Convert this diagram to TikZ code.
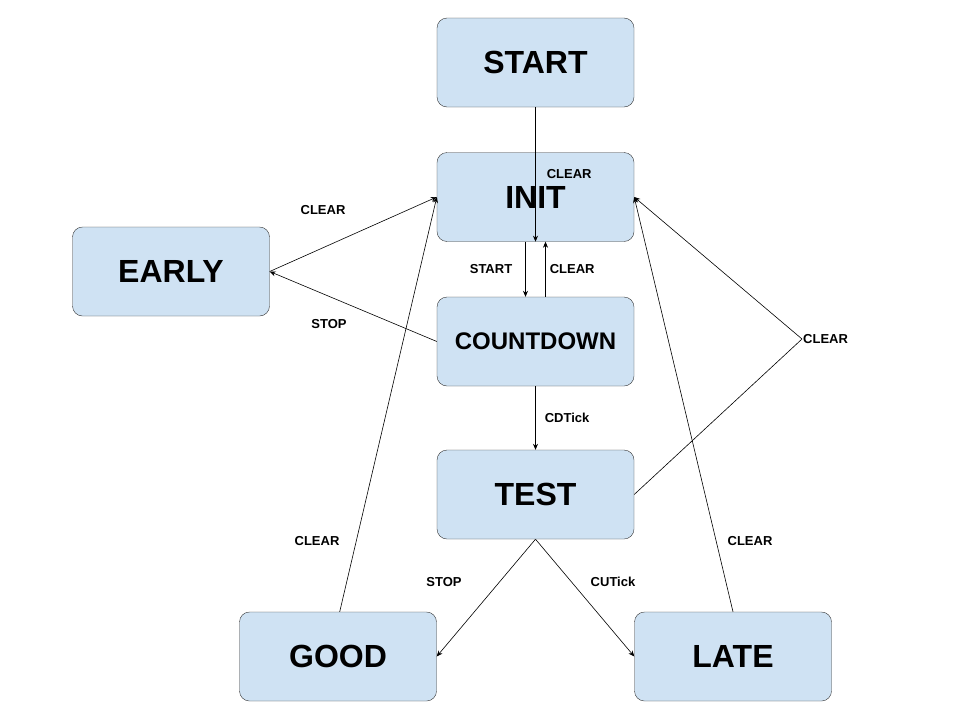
\documentclass[tikz,border=0pt]{standalone}
\usepackage{fontspec}
\setmainfont{Liberation Sans}
\usetikzlibrary{arrows.meta}
\begin{document}
\begin{tikzpicture}[x=1pt,y=-1pt,
  state/.style={draw=black!80,fill={rgb,255:red,207;green,226;blue,243},rounded corners=10pt,minimum width=197pt,minimum height=89pt,font=\fontsize{32}{36}\selectfont\bfseries,inner sep=0pt},
  lbl/.style={font=\fontsize{13}{15}\selectfont\bfseries,inner sep=1pt},
  conn/.style={-{Stealth[length=6pt,width=5pt]},line width=0.6pt}]
\useasboundingbox (0,0) rectangle (960,720);
\node[state] (start) at (535.5,62.5) {START};
\node[state] (init) at (535.5,197) {INIT};
\node[state] (early) at (171,271.5) {EARLY};
\node[state,font=\fontsize{24}{28}\selectfont\bfseries] (cd) at (535.5,341.5) {COUNTDOWN};
\node[state] (test) at (535.5,494.5) {TEST};
\node[state] (good) at (338,656.5) {GOOD};
\node[state] (late) at (733,656.5) {LATE};
\coordinate (c) at (802,339);
\draw[conn] (start.south) -- node[lbl,right=10pt]{CLEAR} (init.south);
\draw[conn] ([xshift=-10pt]init.south) -- node[lbl,left=12pt]{START} ([xshift=-10pt]cd.north);
\draw[conn] ([xshift=10pt]cd.north) -- node[lbl,right=3pt]{CLEAR} ([xshift=10pt]init.south);
\draw[conn] (early.east) -- (init.west);
\node[lbl] at (323,210) {CLEAR};
\draw[conn] (cd.west) -- (early.east);
\node[lbl] at (329,324) {STOP};
\draw[conn] (cd.south) -- node[lbl,right=8pt]{CDTick} (test.north);
\draw[conn] (test.south) -- (good.east);
\node[lbl] at (444,582) {STOP};
\draw[conn] (test.south) -- (late.west);
\node[lbl] at (613,582) {CUTick};
\draw[conn] (good.north east) ++(-97,0) -- (init.west);
\node[lbl] at (317,541) {CLEAR};
\draw[conn] (late.north) -- (init.east);
\node[lbl] at (750,541) {CLEAR};
\draw[conn] (test.east) -- (c) -- (init.east);
\node[lbl,anchor=west] at (c) {CLEAR};
\end{tikzpicture}
\end{document}
